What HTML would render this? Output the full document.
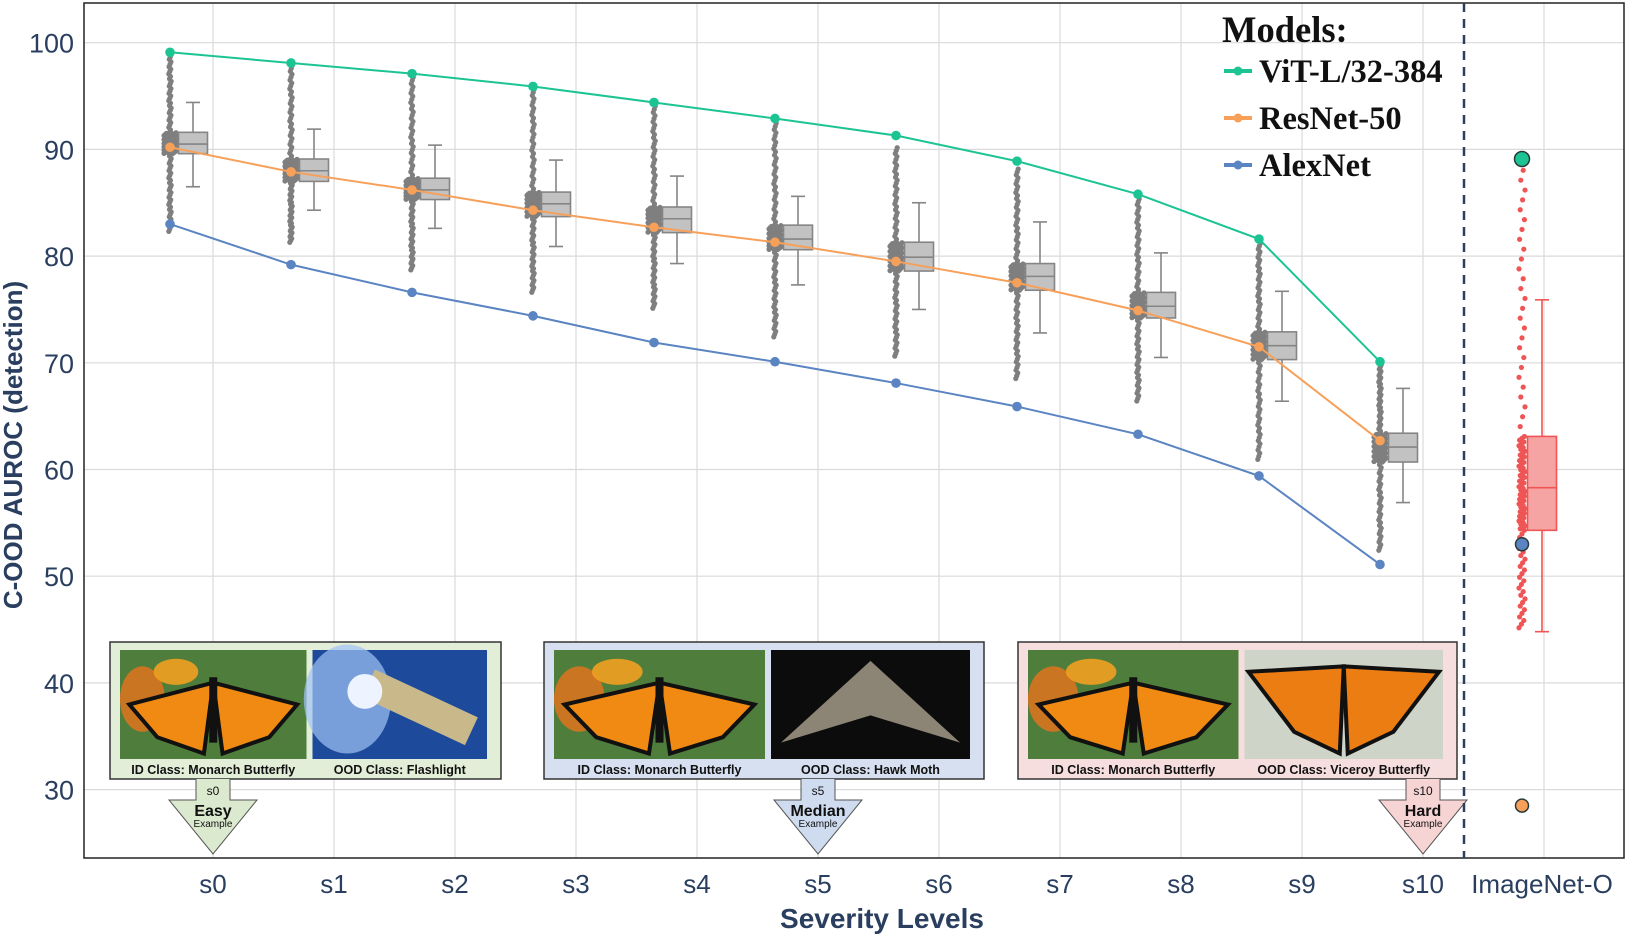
<!DOCTYPE html>
<html><head><meta charset="utf-8"><style>
html,body{margin:0;padding:0;background:#fff;}
svg{display:block;font-family:"Liberation Sans",sans-serif;}
</style></head><body>
<svg id="chart" width="1626" height="936" viewBox="0 0 1626 936" xmlns="http://www.w3.org/2000/svg">
<g id="grid"></g>
<g id="ann"></g>
<g id="marks"></g>
<rect x="84" y="3" width="1540" height="855" fill="none" stroke="#222" stroke-width="1.5"/>
<line x1="1464" y1="3" x2="1464" y2="858" stroke="#2a3f5f" stroke-width="2.5" stroke-dasharray="9,7"/>
<g id="axes"></g>
<text x="13" y="445" transform="rotate(-90 13 445)" text-anchor="middle" dominant-baseline="central" font-size="26" font-weight="bold" fill="#2a3f5f">C-OOD AUROC (detection)</text>
<text x="882" y="928" text-anchor="middle" font-size="28" font-weight="bold" fill="#2a3f5f">Severity Levels</text>
<g font-family="Liberation Serif, serif" font-weight="bold" fill="#111">
<text x="1222" y="42" font-size="36.5">Models:</text>
<g><line x1="1224" y1="71" x2="1252" y2="71" stroke="#1cc493" stroke-width="4"/><circle cx="1238" cy="71" r="4.5" fill="#1cc493"/><text x="1259" y="82" font-size="32.5">ViT-L/32-384</text></g>
<g><line x1="1224" y1="118" x2="1252" y2="118" stroke="#f7a05a" stroke-width="4"/><circle cx="1238" cy="118" r="4.5" fill="#f7a05a"/><text x="1259" y="129" font-size="32.5">ResNet-50</text></g>
<g><line x1="1224" y1="165" x2="1252" y2="165" stroke="#5a84c2" stroke-width="4"/><circle cx="1238" cy="165" r="4.5" fill="#5a84c2"/><text x="1259" y="176" font-size="32.5">AlexNet</text></g>
</g>
</svg>
<script>
const categories = ["s0","s1","s2","s3","s4","s5","s6","s7","s8","s9","s10","ImageNet-O"];
const yTicks = [100,90,80,70,60,50,40,30];
const vitValues = [99.1,98.1,97.1,95.9,94.4,92.9,91.3,88.9,85.8,81.6,70.1];
const resnetValues = [90.2,87.9,86.2,84.3,82.7,81.3,79.5,77.5,74.9,71.5,62.7];
const alexnetValues = [83.0,79.2,76.6,74.4,71.9,70.1,68.1,65.9,63.3,59.4,51.1];
const boxQ1 = [89.6,87.0,85.3,83.7,82.2,80.6,78.6,76.8,74.2,70.3,60.7,54.3];
const boxMedian = [90.5,88.0,86.2,84.9,83.5,81.6,79.9,78.1,75.3,71.6,62.1,58.3];
const boxQ3 = [91.6,89.1,87.3,86.0,84.6,82.9,81.3,79.3,76.6,72.9,63.4,63.1];
const whiskerLow = [86.5,84.3,82.6,80.9,79.3,77.3,75.0,72.8,70.5,66.4,56.9,44.8];
const whiskerHigh = [94.4,91.9,90.4,89.0,87.5,85.6,85.0,83.2,80.3,76.7,67.6,75.9];
const stripMin = [82.2,81.2,78.6,76.5,75.0,72.3,70.5,68.4,66.3,60.8,52.3,45.0];
const stripMax = [99.0,98.0,96.9,95.8,94.2,92.6,90.3,88.3,85.5,81.3,69.9,88.5];
const imagenetVit = 89.1, imagenetAlex = 53.0, imagenetResnet = 28.5;

const NS="http://www.w3.org/2000/svg";
const yS = v => 42.7 + (100 - v) * 10.67;
const xC = i => 213 + 121 * i;
function mk(tag, attrs, parent){const e=document.createElementNS(NS,tag);for(const k in attrs)e.setAttribute(k,attrs[k]);parent.appendChild(e);return e;}
const grid=document.getElementById('grid'), marks=document.getElementById('marks'), axes=document.getElementById('axes'), ann=document.getElementById('ann');

yTicks.forEach(t=>{
  const l=mk('line',{x1:84,x2:1624,y1:yS(t),y2:yS(t),stroke:'#dadada','stroke-width':1.2},grid);
  
  
  const tx=mk('text',{x:74,y:yS(t)+10,'text-anchor':'end','font-size':27,fill:'#2a3f5f'},axes);
  tx.textContent=t;
  
  
});
categories.forEach((c,i)=>{
  const l=mk('line',{x1:xC(i),x2:xC(i),y1:3,y2:858,stroke:'#dadada','stroke-width':1.2},grid);
  
  
  const tx=mk('text',{x:xC(i)-(i==11?2:0),y:893,'text-anchor':'middle','font-size':26,fill:'#2a3f5f'},axes);
  tx.textContent=c;
  
  
});

function stripDots(i, xc, color, N, wide){
  const qs=[stripMin[i],boxQ1[i],boxMedian[i],boxQ3[i],stripMax[i]];
  const g=mk('g',{fill:color},marks);
  
  
  for(let k=0;k<N;k++){
    const p=(k+0.5)/N*4; const s=Math.min(3,Math.floor(p)); const f=p-s;
    const v=qs[s]+(qs[s+1]-qs[s])*f;
    const segPx=Math.abs(yS(qs[s])-yS(qs[s+1]));
    const spacing=segPx/(N/4);
    let hw = spacing<1 ? 6 : (spacing<1.8 ? 3.5 : 1.2);
    if(wide) hw = spacing<1.5 ? 6 : 3;
    const off=(((k*37)%11)/10-0.5)*2*hw;
    mk('circle',{cx:xc+off,cy:yS(v),r:2.6},g);
  }
}
for(let i=0;i<11;i++) stripDots(i, xC(i)-43, '#7f7f7f', 130, false);
stripDots(11, xC(11)-22, '#ef5555', 110, true);

function box(i, xc, w, fill, stroke){
  const g=mk('g',{},marks);
  
  
  mk('line',{x1:xc,x2:xc,y1:yS(whiskerHigh[i]),y2:yS(boxQ3[i]),stroke:stroke,'stroke-width':1.6},g);
  mk('line',{x1:xc,x2:xc,y1:yS(boxQ1[i]),y2:yS(whiskerLow[i]),stroke:stroke,'stroke-width':1.6},g);
  mk('line',{x1:xc-7,x2:xc+7,y1:yS(whiskerHigh[i]),y2:yS(whiskerHigh[i]),stroke:stroke,'stroke-width':1.6},g);
  mk('line',{x1:xc-7,x2:xc+7,y1:yS(whiskerLow[i]),y2:yS(whiskerLow[i]),stroke:stroke,'stroke-width':1.6},g);
  mk('rect',{x:xc-w/2,y:yS(boxQ3[i]),width:w,height:yS(boxQ1[i])-yS(boxQ3[i]),fill:fill,stroke:stroke,'stroke-width':1.6},g);
  mk('line',{x1:xc-w/2,x2:xc+w/2,y1:yS(boxMedian[i]),y2:yS(boxMedian[i]),stroke:stroke,'stroke-width':1.6},g);
}
for(let i=0;i<11;i++) box(i, xC(i)-20, 29, '#c2c2c2', '#858585');
box(11, xC(11)-2, 29, '#f6a3a3', '#ef5555');

function series(vals, color, name){
  const pts=vals.map((v,i)=>(xC(i)-43)+','+yS(v)).join(' ');
  const pl=mk('polyline',{points:pts,fill:'none',stroke:color,'stroke-width':2},marks);
  
  
  vals.forEach((v,i)=>{
    const c=mk('circle',{cx:xC(i)-43,cy:yS(v),r:4.8,fill:color},marks);
    
    
  });
}
series(alexnetValues,'#5a84c2','alexnet');
series(resnetValues,'#f7a05a','resnet');
series(vitValues,'#1cc493','vit');
[[imagenetVit,'#1cc493','imagenet-o-vit'],[imagenetAlex,'#5a84c2','imagenet-o-alexnet'],[imagenetResnet,'#f7a05a','imagenet-o-resnet']].forEach(d=>{
  const c=mk('circle',{cx:xC(11)-22,cy:yS(d[0]),r:d[1]=='#1cc493'?7.5:6.5,fill:d[1],stroke:'#2a3a3a','stroke-width':1.5},marks);
  
  
});

function monarch(g,x,y,w,h,bg){
  mk('rect',{x:x,y:y,width:w,height:h,fill:bg},g);
  mk('ellipse',{cx:x+w*0.12,cy:y+h*0.45,rx:w*0.12,ry:h*0.3,fill:'#e8731c',opacity:0.8},g);
  mk('ellipse',{cx:x+w*0.3,cy:y+h*0.2,rx:w*0.12,ry:h*0.12,fill:'#f0a020',opacity:0.9},g);
  const cx=x+w*0.5, cy=y+h*0.55;
  mk('path',{d:`M${cx} ${cy-h*0.25} L${x+w*0.05} ${cy-h*0.05} L${x+w*0.2} ${cy+h*0.25} L${cx-w*0.05} ${cy+h*0.4} Z`,fill:'#f08a12',stroke:'#111','stroke-width':4},g);
  mk('path',{d:`M${cx} ${cy-h*0.25} L${x+w*0.95} ${cy-h*0.05} L${x+w*0.8} ${cy+h*0.25} L${cx+w*0.05} ${cy+h*0.4} Z`,fill:'#f08a12',stroke:'#111','stroke-width':4},g);
  mk('rect',{x:cx-4,y:cy-h*0.3,width:8,height:h*0.6,fill:'#111'},g);
}
function panel(name,x,w,bg,idx,oodDraw,oodLabel,lvl,word,arrowFill){
  const g=mk('g',{},ann);
  
  
  mk('rect',{x:x,y:642,width:w,height:137,fill:bg,stroke:'#333','stroke-width':1.5},g);
  const iw=(w-30)/2;
  monarch(g,x+10,650,iw+6,109,'#4f7d3c');
  oodDraw(g,x+iw+22,650,iw-6,109);
  const t1=mk('text',{x:x+10+(iw+6)/2,y:774,'text-anchor':'middle','font-size':12.5,'font-weight':'bold',fill:'#111'},g);t1.textContent='ID Class: Monarch Butterfly';
  const t2=mk('text',{x:x+iw+22+(iw-6)/2,y:774,'text-anchor':'middle','font-size':12.5,'font-weight':'bold',fill:'#111'},g);t2.textContent=oodLabel;
  const cx=xC(idx);
  mk('path',{d:`M${cx-17} 779 L${cx-17} 800 L${cx-44} 800 L${cx} 854 L${cx+44} 800 L${cx+17} 800 L${cx+17} 779`,fill:arrowFill,stroke:'#555','stroke-width':1},g);
  const a=mk('text',{x:cx,y:795,'text-anchor':'middle','font-size':12,fill:'#111'},g);a.textContent=lvl;
  const b=mk('text',{x:cx,y:816,'text-anchor':'middle','font-size':16,'font-weight':'bold',fill:'#111'},g);b.textContent=word;
  const c=mk('text',{x:cx,y:827,'text-anchor':'middle','font-size':10,fill:'#111'},g);c.textContent='Example';
}
panel('easy-example-panel',110,391,'#e3eed8',0,(g,x,y,w,h)=>{
  mk('rect',{x:x,y:y,width:w,height:h,fill:'#1d4a9a'},g);
  mk('ellipse',{cx:x+w*0.2,cy:y+h*0.45,rx:w*0.25,ry:h*0.5,fill:'#9fc3f5',opacity:0.7},g);
  mk('rect',{x:x+w*0.3,y:y+h*0.3,width:w*0.65,height:h*0.28,fill:'#c9b98a',transform:`rotate(25 ${x+w*0.5} ${y+h*0.45})`},g);
  mk('circle',{cx:x+w*0.3,cy:y+h*0.38,r:h*0.16,fill:'#eef4ff'},g);
},'OOD Class: Flashlight','s0','Easy','#dbe9cf');
panel('median-example-panel',544,440,'#d7e0f0',5,(g,x,y,w,h)=>{
  mk('rect',{x:x,y:y,width:w,height:h,fill:'#0c0c0c'},g);
  mk('path',{d:`M${x+w*0.5} ${y+h*0.1} L${x+w*0.05} ${y+h*0.85} L${x+w*0.5} ${y+h*0.6} L${x+w*0.95} ${y+h*0.85} Z`,fill:'#8c8474'},g);
},'OOD Class: Hawk Moth','s5','Median','#cfdbef');
panel('hard-example-panel',1018,439,'#f7dede',10,(g,x,y,w,h)=>{
  mk('rect',{x:x,y:y,width:w,height:h,fill:'#cfd4c8'},g);
  const cx=x+w*0.5, cy=y+h*0.5;
  mk('path',{d:`M${cx} ${cy-h*0.35} L${x+w*0.02} ${cy-h*0.3} L${x+w*0.25} ${cy+h*0.25} L${cx-4} ${cy+h*0.45} Z`,fill:'#ec7d12',stroke:'#111','stroke-width':4},g);
  mk('path',{d:`M${cx} ${cy-h*0.35} L${x+w*0.98} ${cy-h*0.3} L${x+w*0.75} ${cy+h*0.25} L${cx+4} ${cy+h*0.45} Z`,fill:'#ec7d12',stroke:'#111','stroke-width':4},g);
},'OOD Class: Viceroy Butterfly','s10','Hard','#f6d4d4');
</script>
</body></html>
